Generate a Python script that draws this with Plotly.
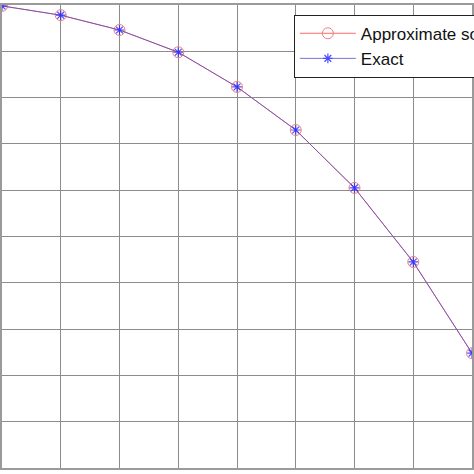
import plotly.graph_objects as go

# sample points (no tick labels visible in the picture, so units are relative)
x_vals = [0.0, 0.1, 0.2, 0.3, 0.4, 0.5, 0.6, 0.7, 0.8]
y_approx = [0.998, 0.978, 0.946, 0.898, 0.823, 0.730, 0.605, 0.445, 0.248]
y_exact = [0.998, 0.978, 0.946, 0.898, 0.823, 0.730, 0.605, 0.445, 0.248]

fig = go.Figure()

# Approximate solution - red line with open circles
fig.add_trace(go.Scatter(
    x=x_vals, y=y_approx, name="Approximate solution",
    mode="lines+markers",
    line=dict(color="#ff6b6b", width=1),
    marker=dict(symbol="circle-open", size=11, color="#f08080", line=dict(width=1)),
))
# Exact - blue line with asterisks, drawn on top
fig.add_trace(go.Scatter(
    x=x_vals, y=y_exact, name="Exact",
    mode="lines+markers",
    line=dict(color="#5a50c8", width=1),
    opacity=0.8,
    marker=dict(symbol="asterisk-open", size=8, color="#2020ff", line=dict(width=1.2, color="#2020ff")),
))

axis_style = dict(
    showticklabels=False, ticks="",
    showgrid=True, gridcolor="#8c8c8c", gridwidth=1.3,
    showline=True, mirror=True, linecolor="#9a9a9a", linewidth=1.5,
    zeroline=False,
)

fig.update_layout(
    width=474, height=474,
    margin=dict(l=2, r=2, t=5, b=6, autoexpand=False),
    paper_bgcolor="white", plot_bgcolor="white",
    xaxis=dict(range=[0, 0.8], dtick=0.1, **axis_style),
    yaxis=dict(range=[0, 1], dtick=0.1, **axis_style),
    showlegend=True,
    legend=dict(
        x=0.621, y=0.979, xanchor="left", yanchor="top",
        bgcolor="white", bordercolor="#222222", borderwidth=1,
        font=dict(family="Liberation Sans, Arial, sans-serif", size=17, color="#111111"),
        itemwidth=56, tracegroupgap=0,
    ),
)

# drop the default page margin so the figure sits at the window's corner
fig.write_html("out.html", config={"displayModeBar": False},
               post_script="document.body.style.margin='0';")
